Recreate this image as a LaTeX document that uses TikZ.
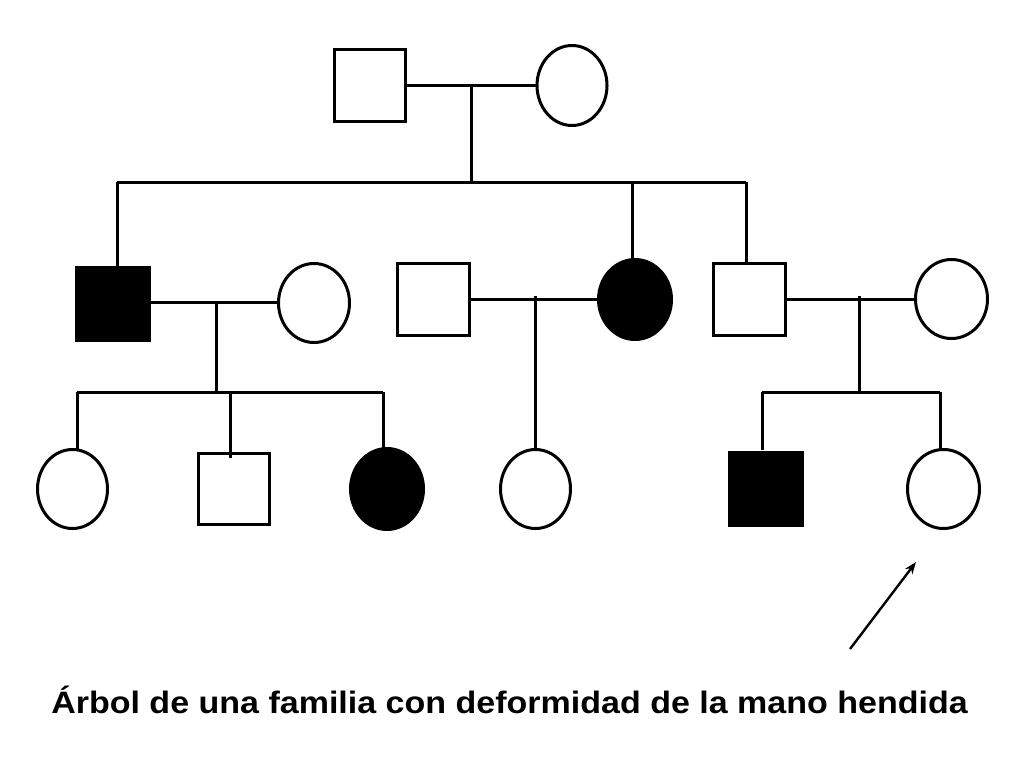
\documentclass[tikz,border=0pt]{standalone}
\usepackage{fontspec}
\setmainfont{Liberation Sans}
\usetikzlibrary{arrows.meta,shapes.geometric}
\begin{document}
\begin{tikzpicture}[x=1pt,y=-1pt,
  ln/.style={line width=3pt},
  male/.style={draw,line width=3pt,rectangle,inner sep=0pt,minimum size=#1},
  fem/.style={draw,line width=3pt,ellipse,inner sep=0pt,minimum width=71pt,minimum height=79pt},
  affm/.style={male=73pt,fill=black},
  afff/.style={fem,fill=black,minimum width=73pt,minimum height=81pt},
  every node/.style={outer sep=0pt}]
\useasboundingbox (0,0) rectangle (1024,768);
% generation I
\node[male=71pt] (i1) at (370,85.5) {};
\node[fem,minimum width=70pt,minimum height=80pt] (i2) at (572,85.5) {};
\coordinate (m1) at (471,86);
\coordinate (s1) at (471,182);
\coordinate (bl1) at (117,182);
\coordinate (br1) at (746,182);
\coordinate (d4) at (632,182);
% generation II
\node[affm] (ii1) at (113,303.5) {};
\node[fem] (ii2) at (314,303) {};
\node[male=72pt] (ii3) at (433.5,299.5) {};
\node[afff,minimum height=80pt] (ii4) at (635,299.5) {};
\node[male=72pt] (ii5) at (749.5,299) {};
\node[fem,minimum width=72pt] (ii6) at (951.5,299) {};
\coordinate (m2) at (216,302);
\coordinate (s2) at (216,392);
\coordinate (bl2) at (77,392);
\coordinate (br2) at (383,392);
\coordinate (c2) at (230,392);
\coordinate (m3) at (535,296);
\coordinate (m4) at (859,296);
\coordinate (s4) at (859,392);
\coordinate (bl4) at (762,392);
\coordinate (br4) at (940,392);
% generation III
\node[fem,minimum width=70pt] (iii1) at (72.5,489) {};
\node[male=71pt] (iii2) at (234,489) {};
\node[afff] (iii3) at (387,489) {};
\node[fem,minimum width=70pt] (iii4) at (535.5,489) {};
\node[affm] (iii5) at (766,489) {};
\node[fem,minimum width=72pt] (iii6) at (943.5,489) {};
% connectors
\draw[ln] (i1.east) -- (i2.west);
\draw[ln] (m1) -- (s1);
\draw[ln] (bl1) -- (br1);
\draw[ln] (bl1) -- (bl1 |- ii1.north);
\draw[ln] (d4) -- (d4 |- ii4.north);
\draw[ln] (br1) -- (br1 |- ii5.north);
\draw[ln] (ii1.east |- m2) -- (ii2.west |- m2);
\draw[ln] (m2) -- (s2);
\draw[ln] (bl2) -- (br2);
\draw[ln] (bl2) -- (bl2 |- iii1.north);
\draw[ln] (c2) -- ([yshift=-4pt]c2 |- iii2.north);
\draw[ln] (br2) -- (br2 |- iii3.north);
\draw[ln] (ii3.east |- 0,299) -- (ii4.west |- 0,299);
\draw[ln] (m3) -- (m3 |- iii4.north);
\draw[ln] (ii5.east |- 0,299) -- (ii6.west |- 0,299);
\draw[ln] (m4) -- (s4);
\draw[ln] (bl4) -- (br4);
\draw[ln] (bl4) -- ([yshift=3pt]bl4 |- iii5.north);
\draw[ln] (br4) -- (br4 |- iii6.north);
% arrow
\coordinate (a0) at (850,649);
\coordinate (a1) at (916,562);
\draw[line width=2.4pt,-{Stealth[length=12pt,width=9pt]}] (a0) -- (a1);
% caption
\node[anchor=base,inner sep=0pt,font=\bfseries\fontsize{31}{36}\selectfont] (cap) at (509.5,713) {\scalebox{1.097}[1]{Árbol de una familia con deformidad de la mano hendida}};
\end{tikzpicture}
\end{document}
